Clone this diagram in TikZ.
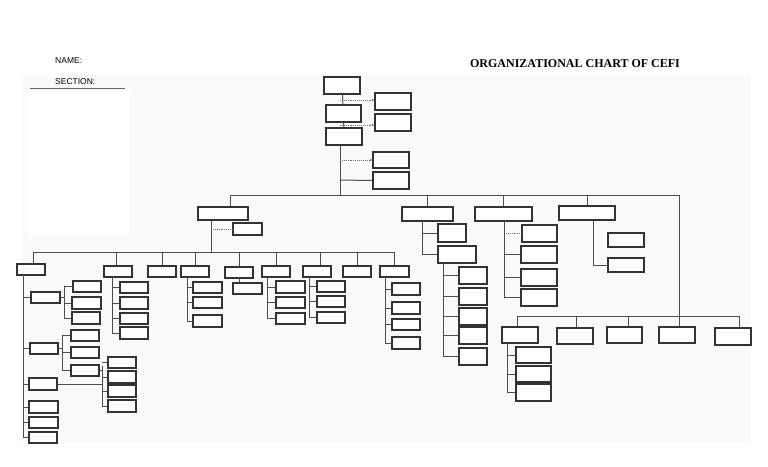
\documentclass[tikz,border=0pt]{standalone}
\usepackage{fontspec}
\setmainfont{Liberation Serif}
\newfontfamily\lab{Liberation Sans}
\usetikzlibrary{arrows.meta}
\tikzset{
 bx/.style={draw=black!80,line width=1.1pt,inner sep=0pt,fill=white},
 ln/.style={draw=black!70,line width=1pt},
 dl/.style={draw=black!55,line width=0.9pt,densely dotted},
}
\newcommand\bx[5]{\node[bx,minimum width=#4pt-#2pt,minimum height=#5pt-#3pt] (#1) at ({(#2+#4)/2},{(#3+#5)/2}) {};}
\begin{document}
\begin{tikzpicture}[x=1pt,y=-1pt]
\useasboundingbox (0,0) rectangle (768,466);
\fill[black!2] (22,75) rectangle (750,443);
\fill[white] (28,90) rectangle (130,235);
\node[font=\lab\fontsize{8.5}{9}\selectfont,anchor=west,inner sep=0pt] (nm) at (55,61) {NAME:};
\node[font=\lab\fontsize{8.5}{9}\selectfont,anchor=west,inner sep=0pt] (sc) at (55,82) {SECTION:};
\draw[black!60,line width=0.6pt] (30,88) -- (125,88);
\node[font=\bfseries\fontsize{12}{13}\selectfont] (ttl) at (575,64) {ORGANIZATIONAL CHART OF CEFI};
% top
\bx{A}{324}{77}{360}{94}
\bx{B}{326}{105}{361}{122}
\bx{C}{326}{128}{362}{145}
\bx{R1}{375}{93}{411}{110}
\bx{R2}{375}{114}{411}{131}
\bx{R3}{373}{152}{409}{168}
\bx{R4}{373}{172}{409}{189}
\coordinate (T0) at (340,195);
\draw[ln] (A) -- (B); \draw[ln] (B) -- (C);
\draw[ln] (C.south -| T0) -- (T0);
\draw[dl,-{Stealth[length=3pt]}] (340,100) -- (R1.west |- 340,100);
\draw[dl,-{Stealth[length=3pt]}] (340,125) -- (R2.west |- 340,125);
\draw[dl,-{Stealth[length=3pt]}] (340,160) -- (R3.west);
\draw[ln] (340,180) -- (R4.west);
% level 2
\coordinate (BL) at (230,195); \coordinate (BR) at (679,195);
\draw[ln] (BL) -- (BR);
\bx{P}{198}{207}{248}{220}
\bx{Pd}{233}{223}{262}{235}
\bx{D}{402}{207}{453}{221}
\bx{E}{475}{207}{532}{221}
\bx{F}{559}{206}{615}{220}
\draw[ln] (BL) -- (BL |- P.north);
\draw[ln] (D.north |- BL) -- (D.north);
\draw[ln] (E.north |- BL) -- (E.north);
\draw[ln] (F.north |- BL) -- (F.north);
\coordinate (tp) at (211,220);
\draw[ln] (tp) -- (211,252);
\draw[dl] (tp |- Pd.west) -- (Pd.west);
% D subtree
\bx{D1}{438}{224}{466}{242}
\bx{D2}{438}{246}{476}{263}
\coordinate (td) at (422,221);
\draw[ln] (td) |- (D2.west); \draw[ln] (td |- D1.west) -- (D1.west);
\coordinate (td2) at (443,263);
\foreach \n/\a/\b in {1/267/284,2/288/305,3/308/325,4/327/344,5/348/365}{
 \bx{Dd\n}{459}{\a}{487}{\b}
 \draw[ln] (td2 |- Dd\n.west) -- (Dd\n.west);}
\draw[ln] (td2) -- (td2 |- Dd5.west);
% E subtree
\coordinate (te) at (504,221);
\bx{E1}{522}{225}{557}{242}
\foreach \n/\a/\b in {2/246/263,3/269/286,4/289/306}{
 \bx{E\n}{521}{\a}{557}{\b}
 \draw[ln] (te |- E\n.west) -- (E\n.west);}
\draw[dl] (te |- E1.west) -- (E1.west);
\draw[ln] (te) -- (te |- E4.west);
% F subtree
\bx{F1}{608}{233}{644}{247}
\bx{F2}{608}{258}{644}{272}
\coordinate (tf) at (593,220);
\draw[ln] (tf) |- (F2.west);
% right bottom
\coordinate (BB1) at (517,316); \coordinate (BB2) at (739,316);
\draw[ln] (BR) -- (679,327);
\draw[ln] (BB1) -- (BB2);
\bx{G1}{502}{327}{538}{343}
\bx{G2}{557}{328}{593}{344}
\bx{G3}{607}{327}{642}{343}
\bx{G4}{659}{327}{695}{343}
\bx{G5}{715}{328}{751}{345}
\draw[ln] (BB1) -- (BB1 |- G1.north);
\draw[ln] (576,316) -- (576,328);
\draw[ln] (628,316) -- (628,327);
\draw[ln] (BB2) -- (BB2 |- G5.north);
\coordinate (tg) at (507,343);
\foreach \n/\a/\b in {1/347/363,2/366/382,3/384/401}{
 \bx{Gg\n}{516}{\a}{551}{\b}
 \draw[ln] (tg |- Gg\n.west) -- (Gg\n.west);}
\draw[ln] (tg) -- (tg |- Gg3.west);
% left bus
\coordinate (LB1) at (33,252); \coordinate (LB2) at (394,252);
\draw[ln] (LB1) -- (LB2);
\bx{L1}{17}{264}{45}{275}
\bx{L2}{104}{266}{132}{277}
\bx{L3}{148}{266}{176}{277}
\bx{L4}{181}{266}{209}{277}
\bx{L5}{225}{267}{253}{278}
\bx{L6}{262}{266}{290}{277}
\bx{L7}{303}{266}{331}{277}
\bx{L8}{343}{266}{371}{277}
\bx{L9}{380}{266}{409}{277}
\foreach \x/\n in {33/L1,116/L2,162/L3,195/L4,239/L5,276/L6,320/L7,357/L8,394/L9}{
 \draw[ln] (\x,252) -- (\x,0 |- \n.north);}
% L1 subtree
\coordinate (t1) at (23,275);
\bx{K1}{31}{292}{60}{303}
\bx{K2}{30}{343}{58}{354}
\bx{K3}{29}{378}{57}{390}
\bx{K4}{29}{401}{58}{413}
\bx{K5}{29}{417}{58}{428}
\bx{K6}{29}{432}{57}{443}
\foreach \n in {1,...,6}{\draw[ln] (t1 |- K\n.west) -- (K\n.west);}
\draw[ln] (t1) -- (t1 |- K6.west);
\coordinate (k1) at (64,286);
\foreach \n/\a/\b/\c/\d in {1/73/281/101/292,2/72/297/101/309,3/72/312/100/324}{
 \bx{Ka\n}{\a}{\b}{\c}{\d} \draw[ln] (k1 |- Ka\n.west) -- (Ka\n.west);}
\draw[ln] (k1) -- (k1 |- Ka3.west); \draw[ln] (K1.east) -- (k1 |- K1.east);
\coordinate (k2) at (62,336);
\foreach \n/\a/\b in {1/330/341,2/347/358,3/365/376}{
 \bx{Kb\n}{71}{\a}{99}{\b} \draw[ln] (k2 |- Kb\n.west) -- (Kb\n.west);}
\draw[ln] (k2) -- (k2 |- Kb3.west); \draw[ln] (K2.east) -- (k2 |- K2.east);
\coordinate (k3) at (102,366);
\foreach \n/\a/\b in {1/357/368,2/371/383,3/385/397,4/400/412}{
 \bx{Kc\n}{108}{\a}{136}{\b} \draw[ln] (k3 |- Kc\n.west) -- (Kc\n.west);}
\draw[ln] (k3) -- (k3 |- Kc4.west);
\draw[ln] (K3.east) -- (k3 |- K3.east);
\draw[ln] (Kb3.east) -- (k3 |- Kb3.east);
% L2
\coordinate (t2) at (112,277);
\foreach \n/\a/\b in {1/282/293,2/297/309,3/313/324,4/327/339}{
 \bx{M\n}{120}{\a}{148}{\b} \draw[ln] (t2 |- M\n.west) -- (M\n.west);}
\draw[ln] (t2) -- (t2 |- M4.west);
% L4
\coordinate (t4) at (187,277);
\foreach \n/\a/\b in {1/282/293,2/297/308,3/315/327}{
 \bx{N\n}{193}{\a}{222}{\b} \draw[ln] (t4 |- N\n.west) -- (N\n.west);}
\draw[ln] (t4) -- (t4 |- N3.west);
% L5
\bx{O1}{233}{283}{262}{294}
\draw[ln] (239,278) -- (239,283);
% L6
\coordinate (t6) at (267,277);
\foreach \n/\a/\b in {1/281/293,2/297/308,3/313/324}{
 \bx{Q\n}{276}{\a}{305}{\b} \draw[ln] (t6 |- Q\n.west) -- (Q\n.west);}
\draw[ln] (t6) -- (t6 |- Q3.west);
% L7
\coordinate (t7) at (309,277);
\foreach \n/\a/\b in {1/281/292,2/296/307,3/312/323}{
 \bx{S\n}{317}{\a}{345}{\b} \draw[ln] (t7 |- S\n.west) -- (S\n.west);}
\draw[ln] (t7) -- (t7 |- S3.west);
% L9
\coordinate (t9) at (385,277);
\foreach \n/\a/\b in {1/283/295,2/302/314,3/319/330,4/337/349}{
 \bx{U\n}{392}{\a}{420}{\b} \draw[ln] (t9 |- U\n.west) -- (U\n.west);}
\draw[ln] (t9) -- (t9 |- U4.west);
\end{tikzpicture}
\end{document}
